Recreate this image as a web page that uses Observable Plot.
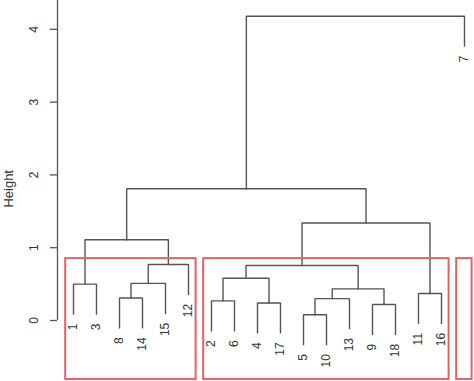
<!DOCTYPE html>
<html>
<head>
<meta charset="utf-8">
<script src="https://cdn.jsdelivr.net/npm/d3@7"></script>
<script src="https://cdn.jsdelivr.net/npm/@observablehq/plot@0.6"></script>
<style>
  html, body { margin: 0; padding: 0; background: #fff; }
  #chart svg { display: block; font-family: "Liberation Sans", Arial, sans-serif; }
</style>
</head>
<body>
<div id="chart"></div>
<script>
// Leaf labels in dendrogram order (left to right)
const leafOrder = ["1","3","8","14","15","12","2","6","4","17","5","10","13","9","18","11","16","7"];
// hclust-style merge table: negative = leaf label, positive = earlier merge (1-based)
const mergeA = [-1, -8, 2, 3, 1, -2, -4, 6, -5, 9, -9, 10, 8, -11, 13, 5, 16];
const mergeB = [-3, -14, -15, -12, 4, -6, -17, 7, -10, -13, -18, 11, 12, -16, 14, 15, -7];
const mergeHeight = [0.50, 0.31, 0.51, 0.77, 1.11, 0.27, 0.24, 0.58, 0.08, 0.30, 0.22, 0.435, 0.755, 0.37, 1.34, 1.81, 4.18];
// Cluster boxes (rect.hclust, k = 3)
const clusterSizes = [6, 11, 1];
const boxTop = 0.85;
const boxBottom = -0.81;
const yTicks = [0, 1, 2, 3, 4];
const yLabel = "Height";
const hangFrac = 0.1;

// ---- derived geometry ----
const hang = hangFrac * (d3.max(mergeHeight) - d3.min(mergeHeight));
const leafPos = new Map(leafOrder.map((l, i) => [-(+l), i + 1]));
const nodeX = [], leafEnds = [], segs = [];
function childInfo(c, parentH) {
  if (c < 0) {
    const x = leafPos.get(c);
    const yEnd = parentH - hang;
    leafEnds.push({label: String(-c), x, y: yEnd});
    return {x, y: yEnd};
  }
  return {x: nodeX[c - 1], y: mergeHeight[c - 1]};
}
mergeA.forEach((a, i) => {
  const h = mergeHeight[i];
  const A = childInfo(a, h), B = childInfo(mergeB[i], h);
  nodeX[i] = (A.x + B.x) / 2;
  const pts = [[A.x, A.y], [A.x, h], [B.x, h], [B.x, B.y]];
  pts.forEach(([x, y]) => segs.push({id: i, x, y}));
});
const boxes = [];
let cum = 0;
clusterSizes.forEach(s => {
  boxes.push({x1: cum + 0.66, x2: cum + s + 0.33, y1: boxBottom, y2: boxTop});
  cum += s;
});

const xDomain = [(57 - 73) / 23 + 1, (474 - 73) / 23 + 1];
const yDomain = [-(381 - 320) / 72.8, 320 / 72.8];
const yLabelPos = (yDomain[0] + yDomain[1]) / 2 + 0.03;

const chart = Plot.plot({
  width: 474,
  height: 381,
  marginLeft: 57,
  marginRight: 0,
  marginTop: 0,
  marginBottom: 0,
  style: {fontFamily: "Liberation Sans, Arial, sans-serif", fontSize: "12px", background: "#fff"},
  x: {domain: xDomain, axis: null},
  y: {domain: yDomain},
  marks: [
    Plot.ruleX([xDomain[0]], {y1: 0, y2: yDomain[1], stroke: "#555", strokeWidth: 1.3}),
    Plot.axisY({ticks: yTicks, tickSize: 7, tickFormat: () => "", label: null, stroke: "#555", strokeWidth: 1.3, strokeOpacity: 1}),
    Plot.text(yTicks, {y: d => d, text: d => String(d), frameAnchor: "left", textAnchor: "middle", dx: -23, rotate: -90, fill: "#333", fontSize: 12}),
    Plot.text([yLabel], {y: () => yLabelPos, text: d => d, frameAnchor: "left", textAnchor: "middle", dx: -49, rotate: -90, fill: "#333", fontSize: 13}),
    Plot.line(segs, {x: "x", y: "y", z: "id", stroke: "#555", strokeWidth: 1.4, strokeLinejoin: "miter", strokeLinecap: "square", curve: "linear"}),
    Plot.text(leafEnds, {x: "x", y: "y", text: "label", rotate: -90, textAnchor: "end", dy: 9.5, fill: "#333", fontSize: 12}),
    Plot.rect(boxes, {x1: "x1", x2: "x2", y1: "y1", y2: "y2", fill: "none", stroke: "#e06464", strokeWidth: 2})
  ]
});
document.getElementById("chart").appendChild(chart);
</script>
</body>
</html>
